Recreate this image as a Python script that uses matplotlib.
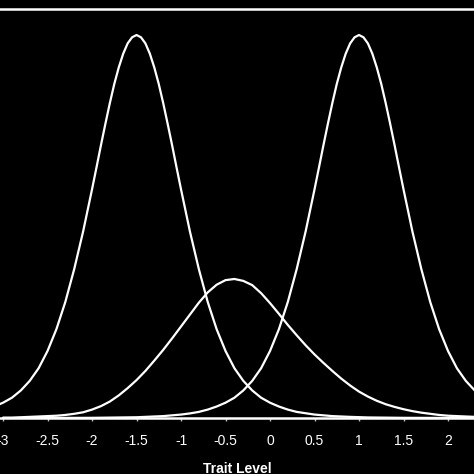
import matplotlib
matplotlib.use("Agg")
import matplotlib.pyplot as plt

# curvas (nivel del rasgo vs altura relativa, pico = 1)
x_left = [-3.1, -3.0, -2.9, -2.8, -2.7, -2.6, -2.5, -2.4, -2.3, -2.2, -2.1, -2.0,
          -1.95, -1.9, -1.85, -1.8, -1.75, -1.7, -1.65, -1.6, -1.55, -1.5,
          -1.45, -1.4, -1.35, -1.3, -1.25, -1.2, -1.15, -1.1, -1.05, -1.0,
          -0.9, -0.8, -0.7, -0.6, -0.5, -0.4, -0.3, -0.2, -0.1, 0.0, 0.1, 0.2,
          0.3, 0.5, 0.7, 0.9, 1.1, 1.5, 2.3]
y_left = [0.030, 0.040, 0.053, 0.072, 0.097, 0.130, 0.175, 0.232, 0.303, 0.389, 0.487, 0.597,
          0.654, 0.712, 0.768, 0.822, 0.872, 0.915, 0.951, 0.978, 0.994, 1.000,
          0.994, 0.978, 0.951, 0.915, 0.872, 0.822, 0.768, 0.712, 0.654, 0.597,
          0.487, 0.389, 0.303, 0.232, 0.175, 0.130, 0.097, 0.072, 0.053, 0.040, 0.030, 0.022,
          0.016, 0.009, 0.005, 0.003, 0.0015, 0.0005, 0.0]

x_mid = [-3.0, -2.9, -2.8, -2.7, -2.6, -2.5, -2.4, -2.3, -2.2, -2.1, -2.0, -1.9, -1.8,
         -1.7, -1.6, -1.5, -1.4, -1.3, -1.2, -1.1, -1.0, -0.9, -0.8, -0.7, -0.6, -0.5,
         -0.4, -0.3, -0.2, -0.1, 0.0, 0.1, 0.2, 0.3, 0.4, 0.5, 0.6, 0.7, 0.8, 0.9, 1.0,
         1.1, 1.2, 1.3, 1.4, 1.5, 1.6, 1.7, 1.8, 1.9, 2.0, 2.1, 2.2, 2.3]
y_mid = [0.001, 0.001, 0.002, 0.003, 0.004, 0.005, 0.006, 0.008, 0.011, 0.015, 0.022, 0.031, 0.043,
         0.059, 0.078, 0.099, 0.123, 0.150, 0.178, 0.208, 0.239, 0.270, 0.301, 0.328, 0.348, 0.360,
         0.363, 0.358, 0.347, 0.326, 0.300, 0.272, 0.243, 0.216, 0.190, 0.166, 0.144, 0.123, 0.103, 0.085, 0.069,
         0.056, 0.045, 0.036, 0.029, 0.023, 0.018, 0.014, 0.011, 0.008, 0.006, 0.005, 0.004, 0.003]

x_right = [-3.0, -2.0, -1.5, -1.2, -1.0, -0.9, -0.8, -0.7, -0.6, -0.5, -0.4, -0.3, -0.2,
           -0.1, 0.0, 0.1, 0.2, 0.3, 0.4, 0.5, 0.55, 0.6, 0.65, 0.7, 0.75, 0.8, 0.85, 0.9,
           0.95, 1.0, 1.05, 1.1, 1.15, 1.2, 1.25, 1.3, 1.35, 1.4, 1.45, 1.5, 1.6, 1.7, 1.8,
           1.9, 2.0, 2.1, 2.2, 2.3]
y_right = [0.0, 0.0005, 0.002, 0.005, 0.009, 0.012, 0.016, 0.022, 0.030, 0.040, 0.053, 0.072, 0.097,
           0.130, 0.175, 0.232, 0.303, 0.389, 0.487, 0.597, 0.654, 0.712, 0.768, 0.822, 0.872, 0.915, 0.951, 0.978,
           0.994, 1.000, 0.994, 0.978, 0.951, 0.915, 0.872, 0.822, 0.768, 0.712, 0.654, 0.597, 0.487, 0.389, 0.303,
           0.232, 0.175, 0.130, 0.097, 0.072]

ticks = [-3, -2.5, -2, -1.5, -1, -0.5, 0, 0.5, 1, 1.5, 2]
tick_labels = ["-3", "-2.5", "-2", "-1.5", "-1", "-0.5", "0", "0.5", "1", "1.5", "2"]

plt.rcParams["font.family"] = ["Liberation Sans", "DejaVu Sans"]

fig = plt.figure(figsize=(4.74, 4.74), dpi=100, facecolor="black")
ax = fig.add_axes([0, 0.1181, 1, 0.863], facecolor="black")

for xs, ys in [(x_left, y_left), (x_mid, y_mid), (x_right, y_right)]:
    ax.plot(xs, ys, color="white", lw=1.6, solid_joinstyle="round", solid_capstyle="round")

ax.set_xlim(-3.034, 2.292)
ax.set_ylim(0, 1.068)

for side in ["left", "right"]:
    ax.spines[side].set_visible(False)
for side in ["top", "bottom"]:
    ax.spines[side].set_color("white")
    ax.spines[side].set_linewidth(1.8)

ax.set_yticks([])
ax.set_xticks(ticks)
ax.set_xticklabels(tick_labels)
ax.tick_params(axis="x", colors="#bbbbbb", length=2, width=1, pad=9.5, labelsize=10,
               labelcolor="white")
ax.set_xlabel("Trait Level", color="white", fontsize=10, fontweight="bold", labelpad=10)

fig.savefig("out.png", dpi=100, facecolor="black")
